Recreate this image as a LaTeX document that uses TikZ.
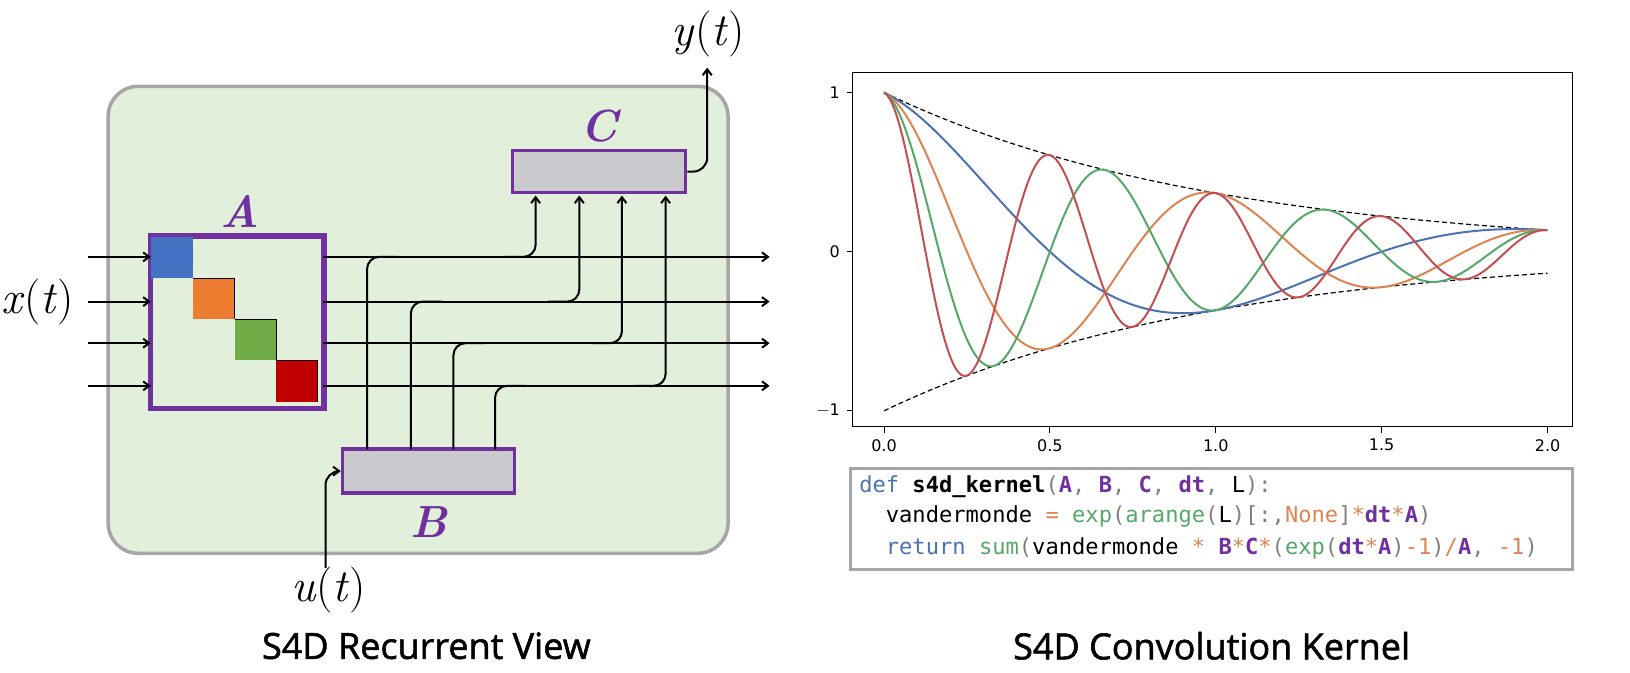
\documentclass[tikz,border=0pt]{standalone}
\usepackage{fontspec}
\newfontfamily\capfont{Open Sans}[FakeBold=1.5]
\newfontfamily\tickfont{DejaVu Sans}
\newfontfamily\codefont{DejaVu Sans Mono}
\usetikzlibrary{arrows.meta,calc}
\definecolor{panel}{HTML}{E2EFDA}
\definecolor{frame}{HTML}{A6A6A6}
\definecolor{purp}{HTML}{7030A0}
\definecolor{boxgray}{HTML}{C9C9CE}
\definecolor{cblue}{HTML}{4C72B0}
\definecolor{corange}{HTML}{DD8452}
\definecolor{cgreen}{HTML}{55A868}
\definecolor{cred}{HTML}{C44E52}
\definecolor{sqblue}{HTML}{4472C4}
\definecolor{sqorange}{HTML}{ED7D31}
\definecolor{sqgreen}{HTML}{70AD47}
\definecolor{sqred}{HTML}{C00000}
\definecolor{pgray}{HTML}{808080}
\newcommand{\kw}[1]{\textcolor{cblue}{#1}}
\newcommand{\fn}[1]{\textcolor{cgreen}{#1}}
\newcommand{\op}[1]{\textcolor{corange}{#1}}
\newcommand{\pv}[1]{\textcolor{purp}{\bfseries #1}}
\newcommand{\pp}[1]{\textcolor{pgray}{#1}}
\newcommand{\sig}[1]{\textit{#1}(\textit{t})}
\begin{document}
\begin{tikzpicture}[x=1.04pt,y=-1.04pt,
  wire/.style={line width=2pt},
  arr/.style={wire,-{Straight Barb[length=6pt,width=9pt]}},
  mat/.style={draw=purp,line width=3.5pt,fill=boxgray},
  lab/.style={text=purp,font=\fontsize{45}{47}\selectfont\bfseries\itshape},
  var/.style={font=\fontsize{46}{48}\selectfont},
  title/.style={font=\capfont\fontsize{36}{38}\selectfont},
  curve/.style={line width=2pt},
  tick/.style={font=\tickfont\fontsize{16}{18}\selectfont}]
\useasboundingbox (0,0) rectangle (1567.3,646.2);
% ---- left: recurrent view
\draw[fill=panel,draw=frame,line width=3.5pt,rounded corners=30pt] (104,83) rectangle (700,532);
\node[mat,fill=panel,minimum width=172pt,minimum height=171pt,inner sep=0pt] (A) at (228,310) {};
\foreach \i/\c in {0/sqblue,1/sqorange,2/sqgreen,3/sqred}
  \fill[\c] ($(A.north west)+(2+40*\i,2+39.5*\i)$) rectangle ++(40,39.5);
\foreach \i in {1,2,3}
  \draw[line width=0.8pt] ($(A.north west)+(2+40*\i,2+39.5*\i)$) -| ++(40,39.5);
\draw[draw=purp,line width=3.5pt] (A.north west) rectangle (A.south east);
\node[lab] at (231,203) {A};
\node[mat,minimum width=172pt,minimum height=44pt] (B) at (412,453) {};
\node[lab] at (412,502) {B};
\node[mat,minimum width=173pt,minimum height=42pt] (C) at (576,165) {};
\node[lab] at (576,121) {C};
\node[var] (x) at (36,290) {\sig{x}};
\node[var] (u) at (316,567) {\sig{u}};
\node[var] (y) at (681,33) {\sig{y}};
\foreach \r/\yy in {1/247,2/290,3/330,4/371}{
  \coordinate (in\r) at (85,\yy);
  \coordinate (ain\r) at (145,\yy);
  \coordinate (aout\r) at (311,\yy);
  \coordinate (out\r) at (740,\yy);
  \draw[arr] (in\r) -- (ain\r);
  \draw[arr] (aout\r) -- (out\r);
}
\foreach \r/\bx/\cx in {1/353/515,2/395/557,3/436/598,4/476/640}{
  \coordinate (b\r) at (\bx,432);
  \coordinate (c\r) at (\cx,188);
  \draw[wire,rounded corners=12pt] (b\r) |- ($(aout\r)+(\bx-311+30,0)$);
  \draw[arr,rounded corners=12pt] ($(aout\r)+(\cx-311-30,0)$) -| (c\r);
}
\coordinate (yend) at (680,65);
\draw[arr,rounded corners=14pt] (C.east) -| (yend);
\coordinate (ustart) at (313,546);
\draw[arr,rounded corners=14pt] (ustart) |- (B.west);
\node[title] at (410,621) {S4D Recurrent View};
% ---- right: convolution kernel
\draw[line width=1pt] (820,70) rectangle (1512,410);
\foreach \v/\t in {1/1,0/0,-1/$-$1}{
  \draw[line width=1pt] (820,242-153*\v) -- ++(-6,0);
  \node[tick,anchor=east] at (811,242-153*\v) {\t};
}
\foreach \v in {0.0,0.5,1.0,1.5,2.0}{
  \draw[line width=1pt] (850+319*\v,410) -- ++(0,6);
  \node[tick,anchor=north] at (850+319*\v,419) {\v};
}
\begin{scope}
\clip (820,70) rectangle (1512,410);
\draw[dash pattern=on 5pt off 3pt,line width=1.2pt] plot[domain=0:2,samples=80] ({850+319*\x},{242-153*exp(-\x)});
\draw[dash pattern=on 5pt off 3pt,line width=1.2pt] plot[domain=0:2,samples=80] ({850+319*\x},{242+153*exp(-\x)});
\foreach \n/\c in {1/cblue,2/corange,3/cgreen,4/cred}
  \draw[curve,\c] plot[domain=0:2,samples=250,smooth] ({850+319*\x},{242-153*exp(-\x)*cos(180*\n*\x)});
\end{scope}
\draw[draw=frame,line width=3pt] (818,450) rectangle (1512,548);
\begin{scope}[every node/.style={anchor=west,inner sep=0pt,font=\codefont\fontsize{22.1}{24}\selectfont}]
\node (l1) at (826,468) {\kw{def} \textbf{s4d\_kernel}\pp{(}\pv{A}\pp{,} \pv{B}\pp{,} \pv{C}\pp{,} \pv{dt}\pp{,} L\pp{):}};
\node (l2) at (826,497) {\ \ vandermonde \op{=} \fn{exp}\pp{(}\fn{arange}\pp{(}L\pp{)[:,}\op{None}\pp{]}\op{*}\pv{dt}\op{*}\pv{A}\pp{)}};
\node (l3) at (826,527) {\ \ \kw{return} \fn{sum}\pp{(}vandermonde \op{*} \pv{B}\op{*}\pv{C}\op{*}\pp{(}\fn{exp}\pp{(}\pv{dt}\op{*}\pv{A}\pp{)}\op{-1}\pp{)}\op{/}\pv{A}\pp{,} \op{-1}\pp{)}};
\end{scope}
\node[title] at (1165,621) {S4D Convolution Kernel};
\end{tikzpicture}
\end{document}
